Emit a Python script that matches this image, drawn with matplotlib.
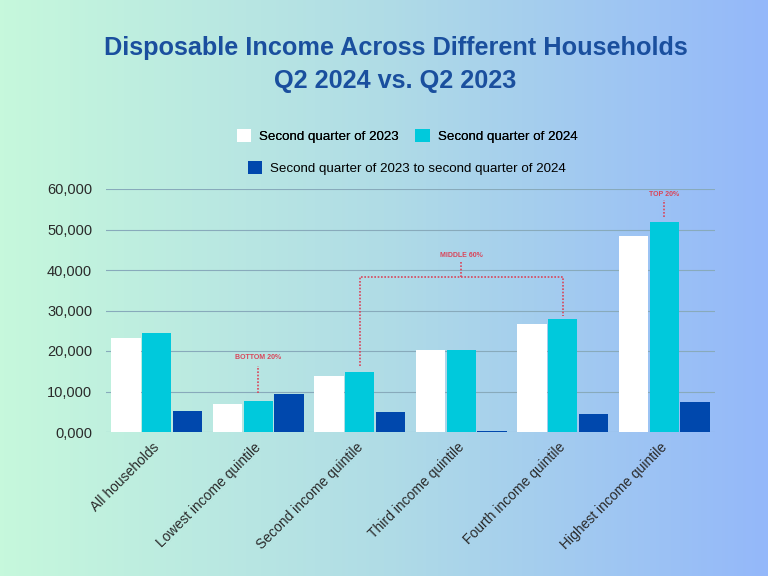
import numpy as np
import matplotlib.pyplot as plt
from matplotlib.colors import LinearSegmentedColormap
from matplotlib.patches import Patch

plt.rcParams['font.family'] = ['Liberation Sans', 'DejaVu Sans']

# Data
categories = ["All households", "Lowest income quintile", "Second income quintile",
              "Third income quintile", "Fourth income quintile", "Highest income quintile"]
q2_2023 = [23300, 6900, 13900, 20200, 26700, 48300]
q2_2024 = [24400, 7600, 14700, 20200, 27900, 51900]
change = [5300, 9300, 4850, 200, 4500, 7500]
series_labels = ["Second quarter of 2023", "Second quarter of 2024",
                 "Second quarter of 2023 to second quarter of 2024"]
colors = ["#ffffff", "#00c9dc", "#0048ad"]

fig = plt.figure(figsize=(7.68, 5.76), dpi=100)

# gradient background
bg = fig.add_axes([0, 0, 1, 1], zorder=-10)
cmap = LinearSegmentedColormap.from_list("bg", ["#c6f8dc", "#b0dce6", "#94b8fa"])
bg.imshow(np.linspace(0, 1, 256)[None, :], aspect="auto", cmap=cmap, extent=[0, 1, 0, 1])
bg.axis("off")

ax = fig.add_axes([106/768, 1 - 432/576, (715-106)/768, (432-189)/576])
ax.patch.set_alpha(0)

x = np.arange(len(categories))
w = 0.29
off = 0.305
ax.bar(x - off, q2_2023, w, color=colors[0], zorder=3)
ax.bar(x, q2_2024, w, color=colors[1], zorder=3)
ax.bar(x + off, change, w, color=colors[2], zorder=3)

ax.set_xlim(-0.5, 5.5)
ax.set_ylim(0, 60000)
ax.set_yticks(np.arange(0, 60001, 10000))
ax.set_yticklabels(["0,000" if v == 0 else f"{v:,}" for v in range(0, 60001, 10000)],
                   fontsize=10.5, color="#2a2a2a")
ax.yaxis.grid(True, color="#88aabb", linewidth=0.8, zorder=0)
ax.set_axisbelow(True)
for s in ax.spines.values():
    s.set_visible(False)
ax.tick_params(length=0, pad=10)
ax.set_xticks(x - 0.04)
ax.set_xticklabels(categories, rotation=45, ha="right", rotation_mode="anchor",
                   fontsize=10, color="#2a2a2a")
ax.tick_params(axis="x", pad=6)

# annotations
red = "#d9455a"
ls = dict(color=red, linestyle=(0, (1, 1)), linewidth=1.2, zorder=4)
ax.plot([1, 1], [9600, 16300], **ls)
ax.text(1, 18300, "BOTTOM 20%", color=red, fontsize=5, fontweight="bold", ha="center", va="center")
ax.plot([2, 2, 4, 4], [16300, 38300, 38300, 28600], **ls)
ax.plot([3, 3], [38300, 42000], **ls)
ax.text(3, 43700, "MIDDLE 60%", color=red, fontsize=5, fontweight="bold", ha="center", va="center")
ax.plot([5, 5], [53100, 57300], **ls)
ax.text(5, 58600, "TOP 20%", color=red, fontsize=5, fontweight="bold", ha="center", va="center")

# title
fig.text(0.515, 1 - 48/576, "Disposable Income Across Different Households",
         ha="center", va="center", fontsize=18.2, fontweight="bold", color="#1a4f9e")
fig.text(0.515, 1 - 81/576, "Q2 2024 vs. Q2 2023",
         ha="center", va="center", fontsize=18.2, fontweight="bold", color="#1a4f9e")

# legends
handles = [Patch(facecolor=c, edgecolor="none") for c in colors]
leg1 = fig.legend(handles[:2], series_labels[:2], ncol=2, loc="center",
                  bbox_to_anchor=(0.53, 1 - 136/576), frameon=False, fontsize=9.6,
                  handlelength=1.1, handleheight=1.1, columnspacing=1.2, handletextpad=0.6)
fig.add_artist(leg1)
fig.legend(handles[2:], series_labels[2:], loc="center",
           bbox_to_anchor=(0.53, 1 - 168/576), frameon=False, fontsize=9.6,
           handlelength=1.1, handleheight=1.1, handletextpad=0.6)

fig.savefig("out.png", dpi=100)
